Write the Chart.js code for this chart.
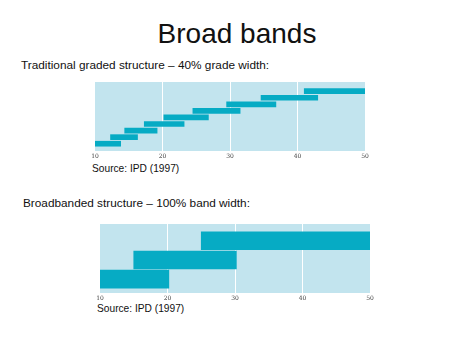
<!DOCTYPE html>
<html>
<head>
<meta charset="utf-8">
<script src="https://cdn.jsdelivr.net/npm/chart.js@4/dist/chart.umd.min.js"></script>
<style>
  body{margin:0;width:474px;height:355px;background:#fff;position:relative;overflow:hidden;font-family:"Liberation Sans",Arial,sans-serif;color:#111;}
  .t{position:absolute;white-space:nowrap;line-height:1;}
  canvas{position:absolute;}
</style>
</head>
<body>
<div class="t" style="left:0;width:474px;text-align:center;top:20px;font-size:28px;">Broad bands</div>
<div class="t" style="left:21px;top:60px;font-size:11.8px;">Traditional graded structure – 40% grade width:</div>
<div class="t" style="left:92px;top:164px;font-size:10.2px;">Source: IPD (1997)</div>
<div class="t" style="left:23px;top:198px;font-size:11.8px;">Broadbanded structure – 100% band width:</div>
<div class="t" style="left:97px;top:304px;font-size:10.2px;">Source: IPD (1997)</div>

<div style="position:absolute;left:85px;top:72px;width:295px;height:100px;"><canvas id="grades"></canvas></div>
<div style="position:absolute;left:90px;top:214px;width:295px;height:100px;"><canvas id="bands"></canvas></div>

<script>
// pay ranges (thousands)
const gradeStarts = [10, 12.3, 14.4, 17.3, 20.2, 24.5, 29.5, 34.6, 41];
const gradeEnds   = [13.8, 16.3, 19.2, 23.2, 26.8, 31.5, 36.8, 43, 50];

const bandStarts = [10, 15, 25];
const bandEnds   = [20.2, 30.2, 50];

const axisTicks = [10, 20, 30, 40, 50];

const fondo = {
    id: "fondo",
    beforeDraw(chart){
        const a = chart.chartArea;
        const c = chart.ctx;
        c.save();
        c.fillStyle = "#c2e4ee";
        c.fillRect(a.left, a.top, a.right - a.left, a.bottom - a.top);
        c.restore();
    }
};

function criarGrafico(id, starts, ends, espessura, yMin, yMax){
    const dados = starts.map((s, i) => ({y: i, x: [s, ends[i]]}));

    return new Chart(document.getElementById(id), {
        type: "bar",
        data: {
            datasets: [{
                data: dados,
                backgroundColor: "#06abc4",
                borderWidth: 0,
                barThickness: espessura
            }]
        },
        options: {
            indexAxis: "y",
            responsive: true,
            maintainAspectRatio: false,
            animation: false,
            layout: {padding: {left: 10, right: 15, top: 10, bottom: 9}},
            plugins: {legend: {display: false}, tooltip: {enabled: false}},
            scales: {
                x: {
                    type: "linear",
                    min: 10,
                    max: 50,
                    afterBuildTicks: s => { s.ticks = axisTicks.map(v => ({value: v})); },
                    afterFit: s => { s.height = 12; },
                    border: {display: false},
                    grid: {
                        drawTicks: false,
                        lineWidth: 1,
                        color: ctx => (ctx.tick && (ctx.tick.value === 10 || ctx.tick.value === 50)) ? "rgba(0,0,0,0)" : "#ffffff"
                    },
                    ticks: {
                        padding: 2,
                        maxRotation: 0,
                        color: "#444",
                        font: {family: "DejaVu Serif", size: 6}
                    }
                },
                y: {
                    type: "linear",
                    display: false,
                    offset: false,
                    min: yMin,
                    max: yMax
                }
            }
        },
        plugins: [fondo]
    });
}

criarGrafico("grades", gradeStarts, gradeEnds, 5, -1.11, 9.4);
criarGrafico("bands", bandStarts, bandEnds, 18, -0.72, 2.875);
</script>
</body>
</html>
